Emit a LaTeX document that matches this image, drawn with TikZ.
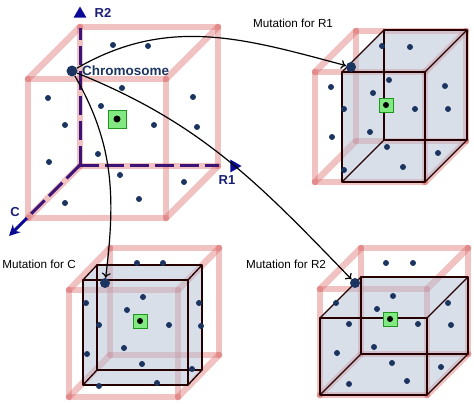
\documentclass[tikz,border=0pt]{standalone}
\usepackage{fontspec}
\setmainfont{Liberation Sans}
\usepackage{xcolor}
\usetikzlibrary{arrows.meta,positioning,shapes.geometric}

\definecolor{pinkline}{RGB}{220,110,110}
\definecolor{genecol}{RGB}{28,52,96}
\definecolor{axiscol}{RGB}{60,20,120}
\definecolor{tipcol}{RGB}{10,10,150}
\definecolor{lblcol}{RGB}{25,30,120}
\definecolor{boxcol}{RGB}{180,192,212}
\definecolor{bestfill}{RGB}{130,232,130}
\definecolor{bestdraw}{RGB}{30,150,30}

% pink search space: front top-left x, y, width, height, back offset dx, dy
\newcommand{\pinkcube}[6]{%
  \foreach \a/\b/\c/\d in {0/0/#3/0, 0/#4/#3/#4, 0/0/0/#4, #3/0/#3/#4}{
    \draw[pinkedge] ({#1+\a},{#2+\b}) -- ({#1+\c},{#2+\d});
    \draw[pinkedge] ({#1+#5+\a},{#2+#6+\b}) -- ({#1+#5+\c},{#2+#6+\d});
  }
  \foreach \a/\b in {0/0, #3/0, 0/#4, #3/#4}
    \draw[pinkedge] ({#1+\a},{#2+\b}) -- ({#1+#5+\a},{#2+#6+\b});
}
% mutated box: front face x1, y1, x2, y2, back offset dx, dy
\newcommand{\mutbox}[6]{%
  \fill[boxfill] (#1,#4) -- (#1,#2) -- ({#1+#5},{#2+#6}) -- ({#3+#5},{#2+#6})
    -- ({#3+#5},{#4+#6}) -- (#3,#4) -- cycle;
  \draw[boxedge] (#1,#2) rectangle (#3,#4);
  \draw[boxedge] ({#1+#5},{#2+#6}) rectangle ({#3+#5},{#4+#6});
  \foreach \p/\q in {#1/#2, #3/#2, #1/#4, #3/#4}
    \draw[boxedge] (\p,\q) -- ({\p+#5},{\q+#6});
}

\begin{document}
\begin{tikzpicture}[
    x=1pt, y=-1pt,
    pinkedge/.style={draw=pinkline, line width=6.5pt, line cap=round, opacity=0.42},
    boxfill/.style={fill=boxcol, opacity=0.5},
    boxedge/.style={draw=black!85!red, line width=1.3pt, line join=round},
    gene/.style={circle, fill=genecol, inner sep=0pt, minimum size=6pt},
    chrom/.style={circle, fill=genecol, inner sep=0pt, minimum size=11pt},
    best/.style={draw=bestdraw, fill=bestfill, line width=1pt, inner sep=0pt, minimum size=#1},
    bestdot/.style={circle, fill=black, inner sep=0pt, minimum size=7pt},
    axis/.style={draw=axiscol, line width=3pt, dash pattern=on 19pt off 6pt},
    tip/.style={regular polygon, regular polygon sides=3, fill=tipcol, inner sep=0pt, minimum size=15pt},
    axlabel/.style={text=lblcol, font=\fontsize{13}{15}\selectfont\bfseries},
    mutlbl/.style={font=\fontsize{11.7}{14}\selectfont},
    mutarrow/.style={-{To[length=5pt,width=9pt]}, line width=1.2pt}
]
    \useasboundingbox (0,0) rectangle (474,404);

    % original search space
    \pinkcube{28}{79}{138}{139}{52}{-52}
    \coordinate (o) at (80,165);
    \coordinate (r2end) at (80,28);
    \coordinate (r1end) at (219,165);
    \coordinate (cend) at (30,215);
    \coordinate (cstart) at (27,218);
    \coordinate (ctip) at (9,236);
    \draw[axis] (o) -- (r2end);
    \draw[axis] (o) -- (r1end);
    \draw[axis] (o) -- (cend);
    \draw[tipcol, line width=3pt, -{Stealth[length=11pt,width=11pt]}] (cstart) -- (ctip);
    \node[tip] (r2tip) at (80,14) {};
    \node[tip, shape border rotate=-90] (r1tip) at (234,166) {};
    \node[axlabel] (r2lbl) at (103,13) {R2};
    \node[axlabel] (r1lbl) at (227,180) {R1};
    \node[axlabel] (clbl) at (15,212) {C};
    \foreach \p [count=\i] in {(113,45),(148,46),(122,88),(48,98),(193,97),(101,106),(65,125),(154,125),
        (197,127),(49,162),(98,154),(120,175),(184,182),(65,203),(139,199)}
      \node[gene] (ga-\i) at \p {};
    \node[best=18pt] (ba) at (117,119) {};
    \node[bestdot] (bda) at (ba) {};
    \node[chrom] (c0) at (72,71) {};
    \node[axlabel, text=genecol, font=\fontsize{13.5}{15}\selectfont\bfseries, right=1pt of c0] (c0lbl) {Chromosome};

    % mutation for R1
    \node[mutlbl] (m1) at (293,23) {Mutation for R1};
    \pinkcube{315}{72}{110}{110}{41}{-41}
    \mutbox{342}{72}{425}{182}{42}{-42}
    \foreach \p [count=\i] in {(382,46),(410,47),(389,80),(331,87),(373,93),(445,86),(344,109),(415,109),
        (448,109),(370,132),(332,137),(387,147),(438,153),(403,167),(344,170)}
      \node[gene] (gb-\i) at \p {};
    \node[best=14pt] (bb) at (386,105) {};
    \node[bestdot, minimum size=6pt] (bdb) at (bb) {};
    \node[chrom, minimum size=10pt] (c1) at (351,67) {};

    % mutation for C
    \node[mutlbl] (m2) at (39,264) {Mutation for C};
    \pinkcube{69}{290}{109}{107}{41}{-42}
    \mutbox{83}{280}{188}{385}{14}{-15}
    \foreach \p [count=\i] in {(137,263),(163,263),(143,297),(86,303),(127,310),(199,303),(99,325),(169,325),
        (201,326),(124,348),(87,354),(142,364),(192,369),(157,383),(99,386)}
      \node[gene] (gc-\i) at \p {};
    \node[best=14pt] (bc) at (140,321) {};
    \node[bestdot, minimum size=6pt] (bdc) at (bc) {};
    \node[chrom, minimum size=10pt] (c2) at (105,283) {};

    % mutation for R2
    \node[mutlbl] (m3) at (286,264) {Mutation for R2};
    \pinkcube{320}{289}{107}{106}{41}{-41}
    \mutbox{320}{318}{427}{395}{41}{-41}
    \foreach \p [count=\i] in {(386,263),(413,263),(393,296),(336,303),(377,309),(448,303),(349,324),(418,324),
        (451,325),(374,347),(337,353),(392,363),(441,367),(407,381),(349,384)}
      \node[gene] (gd-\i) at \p {};
    \node[best=14pt] (bd) at (390,319) {};
    \node[bestdot, minimum size=6pt] (bdd) at (bd) {};
    \node[chrom, minimum size=10pt] (c3) at (355,283) {};

    \draw[mutarrow] (c0) to[out=30, in=165] (c1);
    \draw[mutarrow] (c0) to[out=-60, in=83] (c2);
    \draw[mutarrow] (c0) to[out=-22, in=134] (c3);
\end{tikzpicture}
\end{document}
